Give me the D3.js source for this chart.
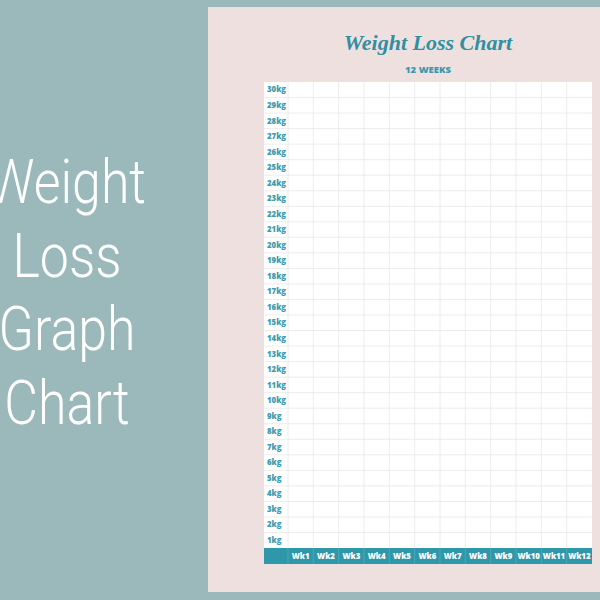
<!DOCTYPE html>
<head>
    <script src="https://d3js.org/d3.v7.min.js"></script>
    <style>
        body { margin: 0; background: #9bb9ba; }
        svg { display: block; }
        .kg { font: 800 7.8px "Open Sans", sans-serif; fill: #3d9cb1; }
        .wk { font: 800 7.8px "Open Sans", sans-serif; fill: #ffffff; }
        .grid line { stroke: #e4e7ea; stroke-width: 0.8px; }
    </style>
</head>
<body>
    <script>
        // chart contents
        var sideWords = ["Weight", "Loss", "Graph", "Chart"];
        var title = "Weight Loss Chart";
        var subtitle = "12 WEEKS";
        var kgLabels = ["30kg", "29kg", "28kg", "27kg", "26kg", "25kg", "24kg", "23kg", "22kg", "21kg",
            "20kg", "19kg", "18kg", "17kg", "16kg", "15kg", "14kg", "13kg", "12kg", "11kg",
            "10kg", "9kg", "8kg", "7kg", "6kg", "5kg", "4kg", "3kg", "2kg", "1kg"];
        var weeks = ["Wk1", "Wk2", "Wk3", "Wk4", "Wk5", "Wk6", "Wk7", "Wk8", "Wk9", "Wk10", "Wk11", "Wk12"];

        var width = 600, height = 600;
        var svg = d3.select("body").append("svg")
            .attr("width", width)
            .attr("height", height);

        svg.append("rect")
            .attr("width", width).attr("height", height)
            .attr("fill", "#9bb9ba");

        // big words on the left panel
        var side = svg.append("g")
            .attr("transform", "translate(67,0) scale(0.85,1)");
        side.selectAll("text")
            .data(sideWords)
            .enter().append("text")
            .attr("x", 0)
            .attr("y", function (d, i) { return 203 + i * 73.7; })
            .attr("text-anchor", "middle")
            .style("font-family", "Roboto, sans-serif")
            .style("font-weight", 300)
            .style("font-size", "61px")
            .attr("fill", "#ffffff")
            .text(function (d) { return d; });

        // the pink sheet
        svg.append("rect")
            .attr("x", 208).attr("y", 7)
            .attr("width", 392).attr("height", 585)
            .attr("fill", "#efe0e0");

        var gLeft = 264, labelW = 24, gRight = 592, gTop = 82, gBottom = 548, barH = 16;

        var y = d3.scaleBand().domain(kgLabels).range([gTop, gBottom]);
        var x = d3.scaleBand().domain(weeks).range([gLeft + labelW, gRight]);

        svg.append("text")
            .attr("x", (gLeft + gRight) / 2)
            .attr("y", 50)
            .attr("text-anchor", "middle")
            .style("font-family", "'Liberation Serif', serif")
            .style("font-style", "italic")
            .style("font-weight", "bold")
            .style("font-size", "22px")
            .attr("fill", "#2f8fa3")
            .text(title);

        svg.append("text")
            .attr("x", (gLeft + gRight) / 2)
            .attr("y", 73)
            .attr("text-anchor", "middle")
            .style("font", "800 9.5px 'Open Sans', sans-serif")
            .attr("fill", "#3a98ac")
            .text(subtitle);

        // white grid area
        svg.append("rect")
            .attr("x", gLeft).attr("y", gTop)
            .attr("width", gRight - gLeft).attr("height", gBottom - gTop)
            .attr("fill", "#ffffff");

        var grid = svg.append("g").attr("class", "grid");

        grid.selectAll("line.h")
            .data(kgLabels.slice(1))
            .enter().append("line")
            .attr("x1", gLeft).attr("x2", gRight)
            .attr("y1", function (d) { return y(d); })
            .attr("y2", function (d) { return y(d); });

        grid.selectAll("line.v")
            .data(weeks)
            .enter().append("line")
            .attr("y1", gTop).attr("y2", gBottom)
            .attr("x1", function (d) { return x(d); })
            .attr("x2", function (d) { return x(d); });

        svg.selectAll("text.kg")
            .data(kgLabels)
            .enter().append("text")
            .attr("class", "kg")
            .attr("x", gLeft + 3)
            .attr("y", function (d) { return y(d) + y.bandwidth() / 2; })
            .attr("dy", "0.35em")
            .text(function (d) { return d; });

        // teal week bar
        svg.append("rect")
            .attr("x", gLeft).attr("y", gBottom)
            .attr("width", gRight - gLeft).attr("height", barH)
            .attr("fill", "#2f97aa");

        svg.selectAll("line.sep")
            .data(weeks)
            .enter().append("line")
            .attr("y1", gBottom).attr("y2", gBottom + barH)
            .attr("x1", function (d) { return x(d); })
            .attr("x2", function (d) { return x(d); })
            .attr("stroke", "#ffffff")
            .attr("stroke-opacity", 0.18)
            .attr("stroke-width", 0.8);

        svg.selectAll("text.wk")
            .data(weeks)
            .enter().append("text")
            .attr("class", "wk")
            .attr("x", function (d) { return x(d) + x.bandwidth() / 2; })
            .attr("y", gBottom + barH / 2)
            .attr("dy", "0.35em")
            .attr("text-anchor", "middle")
            .text(function (d) { return d; });
    </script>
</body>
